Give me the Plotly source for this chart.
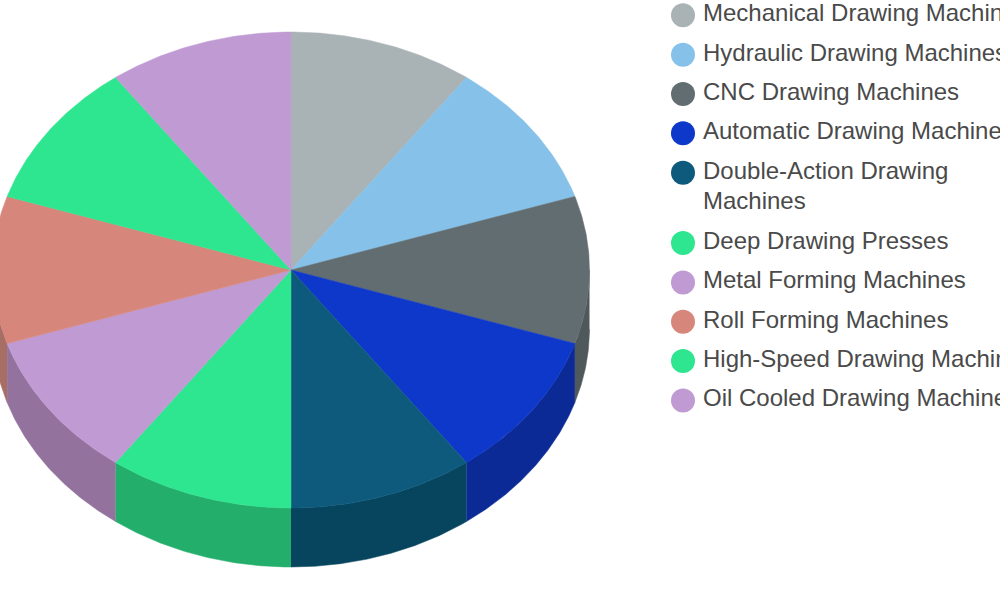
import numpy as np
import plotly.graph_objects as go

categories = [
    "Mechanical Drawing Machines", "Hydraulic Drawing Machines", "CNC Drawing Machines",
    "Automatic Drawing Machines", "Double-Action Drawing<br>Machines", "Deep Drawing Presses",
    "Metal Forming Machines", "Roll Forming Machines", "High-Speed Drawing Machines",
    "Oil Cooled Drawing Machines",
]
values = [10, 10, 10, 10, 10, 10, 10, 10, 10, 10]
top_colors = ["#A9B2B5", "#85C1E9", "#626D71", "#0E38C9", "#0E5A7D",
              "#2EE68F", "#C09AD2", "#D6867A", "#2EE68F", "#C09AD2"]
side_colors = ["#878E91", "#6A9ABA", "#4F585B", "#0B2A96", "#07455F",
               "#23AE6B", "#93729D", "#A66E64", "#23AE6B", "#93729D"]

CX, CY, RX, RY, DEPTH = 291, 270, 298.5, 238, 59
LEG_X, TXT_X, LEG_Y0, ROW, WRAP_ROW, LINE = 683, 703, 15.3, 39.35, 31, 30


def arc(a0, a1, dy=0):
    t = np.radians(np.linspace(a0, a1, 80))
    return CX + RX * np.sin(t), CY - RY * np.cos(t) + dy


fig = go.Figure()
total = sum(values)
edges = np.cumsum([0] + values) / total * 360

for i, name in enumerate(categories):
    lo, hi = max(edges[i], 90), min(edges[i + 1], 270)
    if hi <= lo:
        continue
    x1, y1 = arc(lo, hi)
    x2, y2 = arc(hi, lo, DEPTH)
    fig.add_trace(go.Scatter(x=np.r_[x1, x2], y=np.r_[y1, y2], mode="lines", fill="toself",
                             fillcolor=side_colors[i], line=dict(width=0.5, color=side_colors[i]),
                             hoverinfo="skip", showlegend=False))

for i, name in enumerate(categories):
    x1, y1 = arc(edges[i], edges[i + 1])
    fig.add_trace(go.Scatter(x=np.r_[CX, x1, CX], y=np.r_[CY, y1, CY], mode="lines", fill="toself",
                             fillcolor=top_colors[i], line=dict(width=0.5, color=top_colors[i]),
                             name=name.replace("<br>", " "), text=f"{values[i]}", hoverinfo="name+text",
                             showlegend=False))

y = LEG_Y0
for i, name in enumerate(categories):
    lines = name.split("<br>")
    fig.add_trace(go.Scatter(x=[LEG_X], y=[y], mode="markers",
                             marker=dict(size=24, color=top_colors[i], line=dict(width=0)),
                             hoverinfo="skip", showlegend=False, cliponaxis=False))
    ys = [y + k * LINE for k in range(len(lines))]
    fig.add_trace(go.Scatter(x=[TXT_X] * len(lines), y=ys, mode="text", text=lines,
                             textposition="middle right",
                             textfont=dict(family="Liberation Sans, Arial, sans-serif", size=24, color="#4a4a4a"),
                             hoverinfo="skip", showlegend=False, cliponaxis=False))
    y += (len(lines) - 1) * WRAP_ROW + ROW

fig.update_layout(
    width=1000, height=600, margin=dict(l=0, r=0, t=0, b=0),
    paper_bgcolor="white", plot_bgcolor="white",
    xaxis=dict(range=[0, 1000], visible=False, fixedrange=True),
    yaxis=dict(range=[600, 0], visible=False, fixedrange=True),
)
fig.write_html("out.html", config={"displayModeBar": False},
               post_script="document.body.style.margin='0';")
